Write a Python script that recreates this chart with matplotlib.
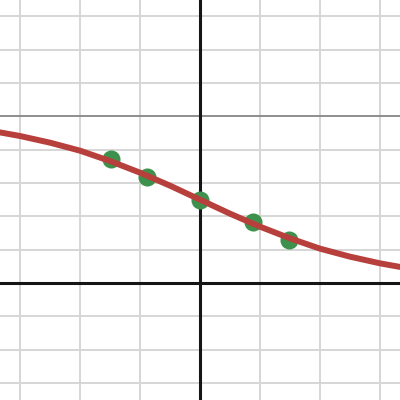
import numpy as np
import matplotlib.pyplot as plt

# curve (data units: 1 x-grid = 1, 1 y-grid = 1)
curve_x = [-3.34, -3.0, -2.5, -2.0, -1.5, -1.0, -0.5, 0.0, 0.5, 1.0, 1.5, 2.0, 2.5, 3.0, 3.34]
curve_y = [4.52, 4.41, 4.21, 3.97, 3.66, 3.31, 2.92, 2.50, 2.08, 1.69, 1.34, 1.03, 0.79, 0.59, 0.48]

# green points
pts_x = [-1.48, -0.89, 0.0, 0.89, 1.48]
pts_y = [3.71, 3.17, 2.49, 1.82, 1.29]

asymptote = 5

grid_x = [-3, -2, -1, 1, 2, 3]
grid_y = [-3, -2, -1, 1, 2, 3, 4, 6, 7, 8]

fig = plt.figure(figsize=(4, 4), dpi=100)
ax = fig.add_axes([0, 0, 1, 1])
ax.set_xlim(-200/60, 200/60)
ax.set_ylim(-117/33.333, 283/33.333)

for gx in grid_x:
    ax.axvline(gx, color='#d6d6d6', lw=1.4, zorder=1)
for gy in grid_y:
    ax.axhline(gy, color='#d6d6d6', lw=1.4, zorder=1)

ax.axhline(asymptote, color='#8e8e8e', lw=1.4, zorder=2)
ax.axhline(0, color='#151515', lw=2.2, zorder=3)
ax.axvline(0, color='#151515', lw=2.2, zorder=3)

ax.plot(pts_x, pts_y, 'o', color='#3d914d', ms=13, mec='none', zorder=4)
ax.plot(curve_x, curve_y, color='#b8403c', lw=4.3, solid_capstyle='butt', zorder=5)

ax.set_xticks([])
ax.set_yticks([])
for s in ax.spines.values():
    s.set_visible(False)

fig.savefig('out.png', dpi=100)
